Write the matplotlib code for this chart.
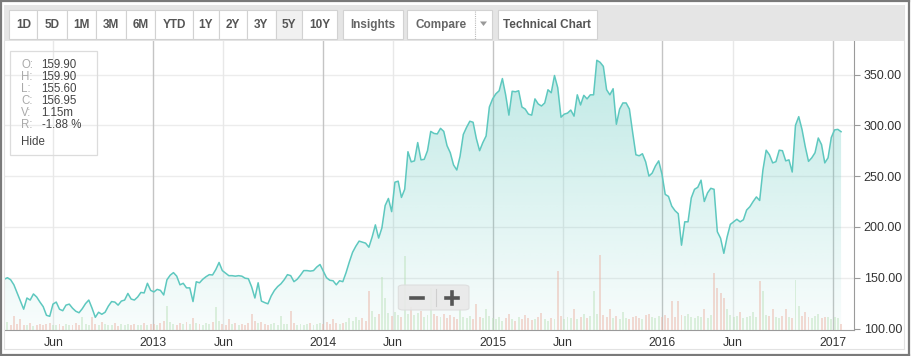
import numpy as np
import pandas as pd
import matplotlib
matplotlib.use("Agg")
import matplotlib.pyplot as plt
import matplotlib.dates as mdates
from matplotlib.patches import Rectangle, FancyBboxPatch, Polygon, Circle
from matplotlib.lines import Line2D

plt.rcParams['font.family'] = ['Liberation Sans', 'DejaVu Sans']

# ---------------- data ----------------
start_date = "2012-02-16"   # weekly closes
price = [
    148.4, 150.0, 148.0, 143.0, 135.0, 127.0, 119.0, 130.0, 128.0, 134.0,
    131.0, 126.0, 121.5, 113.0, 112.0, 124.0, 126.0, 119.0, 117.5, 123.0,
    124.0, 120.0, 117.0, 115.5, 119.5, 124.5, 128.0, 120.0, 111.0, 116.0,
    114.0, 116.0, 122.0, 126.5, 126.0, 123.0, 127.0, 128.0, 134.5, 129.0,
    128.0, 131.0, 135.5, 135.0, 144.5, 137.5, 136.0, 138.5, 137.5, 133.0,
    148.0, 152.5, 155.0, 151.5, 143.0, 144.5, 140.0, 140.0, 126.5, 146.0,
    145.0, 148.5, 151.0, 153.0, 152.7, 158.0, 165.0, 157.0, 154.5, 152.0,
    152.0, 151.5, 152.0, 151.5, 149.5, 149.0, 141.0, 130.0, 145.0, 127.0,
    125.5, 124.3, 132.0, 137.5, 141.3, 144.0, 148.0, 153.0, 152.0, 146.1,
    148.5, 152.5, 157.0, 157.0, 156.5, 157.0, 160.5, 163.0, 156.5, 150.0,
    147.5, 147.0, 143.0, 147.0, 146.1, 155.0, 165.5, 175.0, 181.0, 186.0,
    185.0, 184.0, 180.0, 190.0, 202.0, 189.0, 199.0, 221.0, 228.0, 215.0,
    244.0, 245.0, 229.0, 237.0, 274.0, 264.0, 265.0, 283.0, 266.0, 266.5,
    275.0, 294.0, 292.0, 291.5, 297.0, 294.0, 280.0, 273.0, 261.0, 256.0,
    269.5, 291.0, 298.0, 304.0, 303.0, 287.0, 275.0, 283.0, 289.5, 318.0,
    326.0, 331.0, 334.0, 346.0, 330.0, 310.0, 333.5, 333.0, 334.0, 318.0,
    316.0, 311.0, 310.0, 326.0, 321.0, 319.0, 322.0, 335.0, 332.0, 349.0,
    337.0, 308.0, 311.0, 312.0, 315.0, 309.0, 330.0, 320.0, 329.5, 326.0,
    330.0, 330.0, 364.0, 362.0, 358.0, 335.0, 330.0, 336.0, 301.0, 316.0,
    322.0, 322.0, 316.0, 293.0, 271.0, 270.0, 272.0, 264.0, 250.0, 253.0,
    260.0, 265.0, 252.0, 232.0, 230.0, 220.5, 216.0, 213.0, 182.0, 205.0,
    205.0, 228.5, 237.0, 239.0, 246.0, 225.0, 233.5, 238.0, 237.0, 195.3,
    188.8, 174.0, 190.0, 202.5, 205.0, 207.5, 205.0, 207.0, 216.6, 219.9,
    225.0, 229.5, 226.0, 256.0, 275.5, 271.0, 263.0, 264.2, 275.5, 275.0,
    265.0, 266.0, 254.0, 300.0, 308.5, 296.0, 279.0, 264.5, 268.0, 273.0,
    287.5, 281.0, 263.0, 268.0, 288.0, 295.5, 296.0, 293.7,
]
volume_m = [
    1.2, 1.6, 1.0, 2.6, 1.1, 2.0, 0.9, 1.0, 1.3, 0.8,
    1.0, 1.2, 0.9, 1.1, 1.4, 0.9, 1.0, 1.2, 0.8, 1.1,
    1.0, 0.9, 1.3, 1.0, 2.4, 1.1, 0.9, 2.4, 1.2, 1.0,
    1.6, 1.1, 0.9, 1.0, 1.3, 0.8, 1.1, 1.0, 1.2, 0.9,
    1.1, 1.0, 0.9, 1.3, 1.0, 1.2, 1.1, 0.9, 1.4, 1.8,
    4.6, 1.5, 1.2, 1.0, 1.3, 1.1, 1.6, 1.2, 2.2, 1.4,
    1.1, 1.0, 1.3, 1.2, 1.5, 4.4, 1.8, 1.2, 1.0, 2.0,
    1.1, 1.3, 0.9, 1.2, 1.0, 1.4, 3.0, 1.8, 1.3, 1.6,
    1.2, 1.0, 1.1, 1.4, 1.0, 2.6, 1.2, 1.1, 3.6, 1.3,
    1.0, 1.2, 0.9, 1.1, 1.3, 1.0, 1.2, 1.4, 1.1, 1.5,
    1.2, 2.0, 1.4, 1.1, 1.3, 1.6, 2.2, 1.8, 2.5, 1.9,
    2.2, 1.8, 7.4, 3.6, 2.4, 3.0, 10.0, 6.0, 3.2, 2.6,
    3.5, 2.8, 2.4, 14.0, 3.0, 4.4, 2.8, 3.2, 3.6, 2.5,
    2.8, 8.0, 3.0, 2.6, 2.4, 3.0, 2.2, 2.8, 2.5, 2.0,
    4.0, 2.4, 2.2, 2.6, 2.0, 5.0, 2.4, 2.2, 4.0, 2.6,
    2.2, 2.0, 2.4, 1.8, 2.2, 3.0, 2.0, 1.8, 2.4, 2.0,
    2.8, 2.2, 1.9, 2.0, 2.4, 3.2, 2.0, 1.8, 2.2, 2.0,
    11.2, 2.6, 2.0, 2.4, 2.2, 4.0, 2.0, 2.4, 3.0, 2.2,
    2.6, 7.4, 3.0, 14.2, 2.8, 2.4, 4.0, 2.2, 2.6, 2.0,
    3.5, 2.2, 2.0, 2.4, 2.6, 2.2, 2.0, 2.8, 3.0, 2.4,
    2.2, 2.6, 2.4, 2.8, 2.2, 5.6, 2.4, 5.6, 2.8, 2.6,
    3.0, 2.4, 2.2, 2.6, 2.4, 4.0, 2.2, 2.8, 10.8, 8.0,
    7.0, 6.0, 4.0, 2.8, 2.4, 2.6, 3.5, 2.2, 2.4, 2.6,
    3.5, 2.4, 9.4, 7.4, 2.8, 2.6, 4.0, 2.4, 2.2, 2.6,
    4.0, 2.4, 2.2, 9.6, 4.5, 2.6, 3.5, 2.4, 2.2, 2.6,
    3.0, 2.2, 2.4, 2.5, 2.0, 2.5, 2.2, 1.2,
]
xtick_dates = ["2012-06-01", "2013-01-01", "2013-06-01", "2014-01-01", "2014-06-01",
               "2015-01-01", "2015-06-01", "2016-01-01", "2016-06-01", "2017-01-01"]
xtick_labels = ["Jun", "2013", "Jun", "2014", "Jun", "2015", "Jun", "2016", "Jun", "2017"]
ytick_values = [100, 150, 200, 250, 300, 350]
ytick_labels = ["100.00", "150.00", "200.00", "250.00", "300.00", "350.00"]
range_buttons = ["1D", "5D", "1M", "3M", "6M", "YTD", "1Y", "2Y", "3Y", "5Y", "10Y"]
info_keys = ["O:", "H:", "L:", "C:", "V:", "R:"]
info_vals = ["159.90", "159.90", "155.60", "156.95", "1.15m", "-1.88 %"]

dates = pd.date_range(start_date, periods=len(price), freq="7D")
dnum = mdates.date2num(dates.to_pydatetime())
price = np.array(price)
volume_m = np.array(volume_m)

# ---------------- figure ----------------
W, H = 911, 356
fig = plt.figure(figsize=(W / 100, H / 100), dpi=100)
fig.patch.set_facecolor("white")

def fx(x):
    return x / W

def fy(y):
    return 1 - y / H

ax_l, ax_r, ax_t, ax_b = 4, 854, 41, 330
ax = fig.add_axes([fx(ax_l), fy(ax_b), (ax_r - ax_l) / W, (ax_b - ax_t) / H])
ax.set_facecolor("none")

y_lo = 150 - (ax_b - 277.7) / 1.016
y_hi = 150 + (277.7 - ax_t) / 1.016
d2013 = mdates.date2num(pd.Timestamp("2013-01-01"))
d2017 = mdates.date2num(pd.Timestamp("2017-01-01"))
ppd = (832.7 - 153) / (d2017 - d2013)
x_lo = d2013 - (153 - ax_l) / ppd
x_hi = d2017 + (ax_r - 832.7) / ppd

# volume bars (drawn on a hidden twin axis)
ax2 = ax.twinx()
ax2.set_ylim(0, 55)
ax2.set_xlim(x_lo, x_hi)
ax2.axis("off")
prev = np.concatenate([[price[0]], price[:-1]])
vcol = np.where(price >= prev, "#bfe3bf", "#ebb8aa")
ax2.bar(dnum, volume_m, width=4.2, color=vcol, alpha=0.5, linewidth=0, zorder=2)

# grid
for v in ytick_values[1:]:
    ax.axhline(v, color="#ececec", lw=1.0, zorder=0)
for d, lab in zip(xtick_dates, xtick_labels):
    dn = mdates.date2num(pd.Timestamp(d))
    col = "#e8e8e8" if lab == "Jun" else "#c4c4c4"
    ax.axvline(dn, color=col, lw=1.0, zorder=0)

# gradient fill under price line
poly = ax.fill_between(dnum, price, y_lo, facecolor="none", edgecolor="none")
grad = np.zeros((256, 2, 4))
teal = np.array([95, 200, 190]) / 255.0
alphas = np.linspace(0.04, 0.42, 256)
grad[:, :, :3] = teal
grad[:, :, 3] = alphas[:, None]
im = ax.imshow(grad, extent=[x_lo, x_hi, y_lo, y_hi], origin="lower",
               aspect="auto", zorder=1, interpolation="bilinear")
im.set_clip_path(poly.get_paths()[0], transform=ax.transData)

ax.plot(dnum, price, color="#5ec8bf", lw=1.1, zorder=3)

ax.set_xlim(x_lo, x_hi)
ax.set_ylim(y_lo, y_hi)

# axes styling
for s in ["top", "left"]:
    ax.spines[s].set_visible(False)
ax.spines["right"].set_visible(True)
ax.spines["right"].set_color("#9a9a9a")
ax.spines["bottom"].set_color("#9a9a9a")
ax.yaxis.tick_right()
ax.set_yticks(ytick_values)
ax.set_yticklabels(ytick_labels)
ax.tick_params(axis="y", which="both", left=False, labelleft=False,
               right=True, labelright=True, length=4, color="#9a9a9a",
               labelsize=9, labelcolor="#333333", pad=3)
ax.set_xticks([mdates.date2num(pd.Timestamp(d)) for d in xtick_dates])
ax.set_xticklabels(xtick_labels)
ax.tick_params(axis="x", length=0, labelsize=8.8, labelcolor="#333333", pad=5)

# ---------------- chrome ----------------
def frect(x0, y0, x1, y1, **kw):
    r = Rectangle((fx(x0), fy(y1)), (x1 - x0) / W, (y1 - y0) / H,
                  transform=fig.transFigure, **kw)
    fig.patches.append(r)
    return r

def fline(x0, y0, x1, y1, **kw):
    fig.lines.append(Line2D([fx(x0), fx(x1)], [fy(y0), fy(y1)],
                            transform=fig.transFigure, **kw))

# toolbar band
frect(4, 5, 904, 41, facecolor="#e5e5e5", edgecolor="none", zorder=5)

btn_edges = [9.3, 37.3, 66.7, 95.7, 125.7, 155.3, 192.7, 219, 247, 275.7, 302, 337.3]
for i, lab in enumerate(range_buttons):
    x0, x1 = btn_edges[i], btn_edges[i + 1]
    fc = "#f1f1f1" if lab == "5Y" else "white"
    frect(x0, 10, x1, 39.3, facecolor=fc, edgecolor="#d2d2d2", lw=0.8, zorder=6)
    fig.text(fx((x0 + x1) / 2), fy(24.6), lab, ha="center", va="center",
             fontsize=8.5, fontweight="bold", color="#555555", zorder=7)

frect(343.3, 10, 402.7, 39.3, facecolor="white", edgecolor="#d2d2d2", lw=0.8, zorder=6)
fig.text(fx(373), fy(24.6), "Insights", ha="center", va="center",
         fontsize=8.5, fontweight="bold", color="#666666", zorder=7)
frect(407.3, 10, 491.7, 39.3, facecolor="white", edgecolor="#d2d2d2", lw=0.8, zorder=6)
fig.text(fx(441.5), fy(24.6), "Compare", ha="center", va="center",
         fontsize=8.5, fontweight="bold", color="#666666", zorder=7)
fline(475, 11, 475, 38.5, color="#bbbbbb", lw=0.8, ls=(0, (1, 1)), zorder=7)
tri = Polygon([[fx(480), fy(21.5)], [fx(487), fy(21.5)], [fx(483.5), fy(26)]],
              closed=True, transform=fig.transFigure, facecolor="#999999",
              edgecolor="none", zorder=7)
fig.patches.append(tri)
frect(497.7, 10, 596.7, 39.3, facecolor="white", edgecolor="#d2d2d2", lw=0.8, zorder=6)
fig.text(fx(547.2), fy(24.6), "Technical Chart", ha="center", va="center",
         fontsize=8.5, fontweight="bold", color="#555555", zorder=7)

# info box
frect(10, 51, 96.7, 155, facecolor="none", edgecolor="#dcdcdc", lw=0.9, zorder=6)
row_y = [65, 77.3, 89, 101, 113.3, 125]
for k, v, yy in zip(info_keys, info_vals, row_y):
    fig.text(fx(21), fy(yy), k, ha="left", va="center", fontsize=8.3,
             color="#aaaaaa", zorder=7)
    fig.text(fx(41.5), fy(yy), v, ha="left", va="center", fontsize=8.3,
             color="#444444", zorder=7)
fig.text(fx(21), fy(142.3), "Hide", ha="left", va="center", fontsize=8.3,
         color="#444444", zorder=7)

# zoom control
zb = FancyBboxPatch((fx(398.3), fy(310)), (469 - 398.3) / W, 25 / H,
                    boxstyle="round,pad=0,rounding_size=0.006",
                    transform=fig.transFigure, facecolor="#e9e9e9",
                    edgecolor="#dddddd", lw=0.8, alpha=0.9, zorder=8)
fig.patches.append(zb)
fline(416.7 - 6, 297.5, 416.7 + 6, 297.5, color="#555555", lw=2.6, zorder=9)
fline(451.7 - 6, 297.5, 451.7 + 6, 297.5, color="#555555", lw=2.6, zorder=9)
fline(451.7, 291.5, 451.7, 303.5, color="#555555", lw=2.6, zorder=9)
fline(435.7, 289, 435.7, 306, color="#cfcfcf", lw=0.8, zorder=9)

# container lines / outer frame
fline(4, 41, 4, 349, color="#e2e2e2", lw=0.8, zorder=4)
fline(904, 5, 904, 349, color="#e2e2e2", lw=0.8, zorder=4)
fline(4, 349, 904, 349, color="#e2e2e2", lw=0.8, zorder=4)
fline(0.8, 0, 0.8, 356, color="#7a7a7a", lw=1.6, zorder=10)
fline(0, 0.8, 908.5, 0.8, color="#7a7a7a", lw=1.6, zorder=10)
fline(908.5, 0, 908.5, 354.5, color="#7a7a7a", lw=1.6, zorder=10)
fline(0, 354.5, 908.5, 354.5, color="#7a7a7a", lw=1.6, zorder=10)

# event markers peeking at bottom
for xx, c in zip([61.7, 120.7, 133.3, 189, 255, 306.7],
                 ["#f5a623", "#2ca02c", "#e02020", "#2040e0", "#9020a0", "#f5a623"]):
    fig.patches.append(Circle((fx(xx), fy(357.5)), 3.5 / W, transform=fig.transFigure,
                              facecolor=c, edgecolor="none", zorder=11))

fig.savefig("out.png", dpi=100)
